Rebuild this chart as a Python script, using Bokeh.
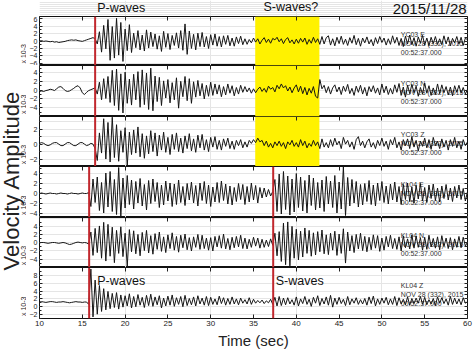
import numpy as np
from bokeh.plotting import figure
from bokeh.layouts import row, column
from bokeh.models import Range1d, Label, BoxAnnotation, Span, LinearAxis, FixedTicker
from bokeh.embed import file_html
from bokeh.resources import INLINE

# ---------------- data (velocity, x 10^-3), sampled every 0.25 s from t = 10 s ----------------
T0 = 10.0
DT = 0.25

yc03_e = [
    0.0, 0.1, -0.1, 0.0,  -0.1, -0.2, -0.1, -0.3,  -0.2, -0.4, -0.3, -0.2,  -0.1, 0.1, 0.2, 0.3,
    0.2, 0.3, 0.1, 0.0,  -0.1, 0.1, 0.3, 0.5,  0.7, 0.9, 0.6, -0.8,  2.5, -3.0, 4.2, -2.1,
    5.8, -5.2, 3.9, -4.6,  6.1, -3.8, 5.0, -5.5,  3.2, -2.6, 4.4, -3.1,  2.1, -1.8, 2.8, -2.4,
    1.6, -2.7, 3.0, -1.9,  2.4, -1.5, 1.9, -2.2,  1.4, -2.8, 2.6, -1.7,  2.0, -2.3, 1.5, -1.2,
    2.2, -1.9, 2.8, -2.5,  4.6, -3.6, 2.7, -2.0,  1.8, -2.4, 2.1, -1.5,  2.3, -1.6, 1.2, -2.0,
    1.7, -1.1, 1.9, -1.4,  1.2, -1.6, 1.4, -0.9,  1.5, -1.3, 0.8, -1.4,  1.1, -0.7, 1.3, -1.0,
    0.6, -0.9, 0.4, -0.5,  0.8, -0.3, 0.6, -0.8,  0.2, 0.9, -0.4, 0.5,  -0.6, 0.7, 0.3, 1.0,
    -0.2, 0.6, -0.7, 0.4,  0.9, -0.5, 0.3, -0.8,  0.5, -0.6, 0.7, -0.3,  0.8, -0.9, 0.4, -0.6,
    1.0, -0.4, 0.6, -0.9,  1.2, -0.8, 0.9, 1.4,  -1.1, 0.6, -1.3, 1.0,  -0.7, 1.3, -0.9, 0.5,
    -1.2, 0.9, -0.6, 1.5,  -1.0, 0.7, -1.4, 0.8,  -0.5, 1.1, -0.8, 0.4,  -1.3, 0.9, -0.7, 1.2,
    -0.4, 0.8, -1.1, 0.6,  -0.9, 1.4, -0.6, 1.0,  -1.2, 0.7, -1.5, 1.3,  -0.8, 1.6, -1.0, 0.9,
    -1.4, 1.1, -0.6, 1.5,  -1.1, 0.8, -1.3, 1.0,  -0.7, 1.2, -0.9, 0.6,  -1.0, 1.4, -0.8, 1.1,
    -1.3, 0.7, -0.5, 1.2,  -0.9, 1.0, -1.2, 0.8,  0.3,
]

yc03_n = [
    -0.3, -0.2, -0.3, -0.1,  0.0, 0.2, 0.1, -0.1,  0.3, 0.7, 0.8, 0.4,  -0.1, -0.3, -0.2, 0.1,
    0.4, 0.8, 1.0, 0.5,  -0.6, -1.0, -0.5, -0.1,  0.1, 0.3, 0.5, -0.9,  1.8, -2.2, 2.6, -1.9,
    3.1, -2.8, 4.5, -3.5,  4.8, -4.6, 3.7, -5.2,  4.1, -3.0, 2.5, -3.4,  3.6, -2.2, 4.2, -3.9,
    4.6, -3.3, 3.9, -4.4,  5.0, -4.7, 3.2, -2.6,  2.9, -3.5, 2.1, -1.8,  2.4, -2.9, 1.7, -2.2,
    2.8, -4.1, 2.0, -1.5,  3.1, -2.4, 2.6, -3.0,  1.9, -1.6, 2.2, -1.3,  1.5, -2.0, 1.1, -1.4,
    1.8, -1.2, 1.4, -0.9,  1.2, -1.5, 0.8, -1.1,  1.4, -0.7, 1.0, -1.3,  0.6, -0.9, 1.1, -0.5,
    0.8, -0.4, 0.5, -0.7,  0.3, -0.6, 0.2, 0.7,  -0.3, 0.4, -0.5, 0.9,  0.2, 0.6, -0.4, 1.1,
    0.3, 1.4, 0.5, 1.0,  -0.2, 0.7, -0.6, 0.5,  1.2, -0.4, 0.9, -0.8,  0.6, -1.1, 0.4, -0.7,
    0.8, -1.4, -1.8, 2.4,  0.3, 1.1, -0.6, 0.8,  -0.9, 0.5, 1.2, -0.4,  0.7, -1.0, 0.9, -0.3,
    1.3, -0.8, 0.4, -1.2,  0.9, -0.5, 1.1, -0.9,  0.6, -1.3, 0.8, -0.4,  1.0, -0.7, 0.5, -1.1,
    1.4, -0.6, 0.9, -1.0,  0.4, -0.9, 1.2, -0.5,  1.5, -1.2, 0.7, -1.6,  1.1, -0.8, 1.3, -0.6,
    0.9, -1.4, 0.6, -0.9,  1.6, -0.7, 1.0, -1.2,  0.5, -1.0, 1.4, -0.8,  1.2, -0.6, 0.8, -1.1,
    0.7, -1.3, 1.0, -0.5,  1.1, -0.7, 0.6, -0.9,  0.2,
]

yc03_z = [
    0.1, 0.2, 0.1, -0.1,  -0.2, -0.1, 0.1, 0.2,  0.2, 0.0, -0.2, -0.2,  0.0, 0.2, 0.2, 0.0,
    -0.2, -0.2, 0.0, 0.2,  0.2, 0.0, -0.2, -0.1,  0.1, 0.0, -0.6, -2.2,  1.5, -1.2, 3.4, -2.0,
    2.9, -2.4, 3.6, -1.8,  2.6, -2.3, 1.8, -1.1,  2.2, -2.9, 1.6, -1.4,  1.9, -1.2, 2.3, -1.7,
    1.4, -1.9, 1.1, -1.3,  1.8, -1.0, 1.5, -1.6,  1.2, -0.8, 1.6, -1.1,  0.9, -1.4, 1.3, -0.7,
    1.5, -1.0, 0.8, -1.2,  1.1, -0.6, 1.4, -0.9,  0.7, -1.1, 1.2, -0.5,  1.3, -0.8, 0.6, -1.0,
    0.9, -0.4, 1.0, -0.7,  0.5, -0.8, 0.7, -0.3,  0.8, -0.6, 0.4, -0.7,  0.5, -0.2, 0.6, -0.5,
    0.3, -0.4, 0.5, 0.1,  0.6, 0.2, 0.8, 0.3,  0.5, -0.2, 0.4, -0.4,  0.1, -0.5, 0.3, -0.2,
    0.4, -0.3, 0.2, -0.6,  0.3, -0.1, 0.5, -0.3,  0.2, -0.4, 0.6, -0.2,  0.4, -0.5, 0.1, -0.3,
    0.5, -0.2, 0.3, -0.6,  0.7, -0.4, 0.2, -0.5,  0.6, -0.3, 0.8, -0.1,  0.4, -0.6, 0.9, 0.0,
    0.5, -0.4, 0.3, -0.7,  0.6, 1.0, -0.2, 0.4,  -0.5, 0.3, 0.7, -0.4,  0.2, -0.6, 0.5, -0.2,
    0.8, -0.3, 0.4, -0.7,  0.6, -0.1, 0.9, -0.5,  0.3, -0.8, 0.6, -0.2,  0.7, -0.6, 1.0, -0.4,
    0.5, -0.9, 0.4, -0.3,  0.8, -0.5, 0.6, -0.7,  0.9, -0.2, 0.4, -0.6,  0.7, -0.4, 0.5, -0.8,
    0.6, -0.3, 0.9, -0.5,  0.4, -0.7, 0.6, -0.2,  0.3,
]

kl04_e = [
    0.0, 0.1, 0.0, -0.1,  0.0, 0.1, 0.0, 0.0,  -0.1, 0.0, 0.1, 0.0,  0.0, -0.1, 0.0, 0.1,
    0.0, 0.0, -0.1, 0.0,  0.1, 0.0, 0.0, 0.2,  -2.6, 2.9, -1.8, 3.3,  -3.4, 2.2, -3.9, 4.1,
    -2.7, 4.4, -3.6, 2.8,  -4.2, 5.2, -4.5, 3.1,  -2.9, 3.6, -2.2, 2.7,  -3.1, 2.4, -1.9, 3.0,
    -2.5, 1.8, -3.3, 2.6,  -2.0, 2.9, -1.6, 2.2,  -2.8, 1.7, -2.3, 2.5,  -1.5, 2.1, -2.6, 1.9,
    -2.2, 2.7, -1.8, 1.4,  -2.4, 2.0, -1.3, 2.3,  -1.9, 1.6, -2.5, 2.1,  -1.4, 2.4, -2.0, 1.7,
    -2.6, 1.3, -1.7, 2.2,  -1.8, 2.5, -1.4, 1.9,  -2.1, 1.5, -2.3, 1.2,  -1.6, 2.0, -1.2, 1.8,
    -2.2, 1.4, -1.7, 2.1,  -1.3, 1.6, -1.9, 1.2,  -0.9, 1.1, -0.7, 0.8,  -0.5, 0.4, 2.8, -3.6,
    3.9, -4.1, 4.4, -3.2,  3.5, -4.3, 2.9, -3.7,  4.0, -2.8, 3.3, -3.5,  2.6, -3.9, 3.7, -2.4,
    3.1, -3.3, 2.2, -2.9,  2.7, -3.6, 3.4, -2.1,  2.5, -2.8, 3.6, -3.9,  2.3, -3.1, 5.3, -4.4,
    3.2, -2.5, 2.8, -1.9,  2.4, -2.7, 1.8, -2.3,  2.0, -1.6, 2.6, -2.2,  1.7, -2.5, 2.1, -1.4,
    2.4, -1.8, 1.5, -2.1,  1.9, -1.3, 2.3, -1.7,  1.4, -2.2, 1.8, -1.2,  2.1, -1.6, 1.3, -1.9,
    1.6, -1.1, 2.0, -1.5,  1.2, -1.8, 1.7, -1.0,  1.9, -1.4, 1.1, -1.7,  1.5, -1.0, 1.8, -1.3,
    1.1, -1.6, 1.4, -0.9,  1.7, -1.2, 1.0, -1.5,  0.4,
]

kl04_n = [
    0.0, 0.1, 0.1, 0.0,  -0.1, 0.0, 0.1, 0.1,  0.0, -0.1, 0.0, 0.1,  0.0, -0.2, -0.4, -0.3,
    -0.1, 0.1, 0.2, 0.1,  0.0, 0.1, 0.0, -0.3,  2.7, -3.1, 3.6, -2.4,  4.2, -3.8, 5.1, -4.5,
    4.6, -3.3, 3.9, -4.9,  3.1, -2.6, 4.0, -3.4,  2.4, -5.8, 3.3, -2.2,  3.0, -2.7, 2.1, -3.2,
    2.6, -1.9, 3.1, -2.5,  1.8, -2.8, 2.3, -1.6,  2.7, -2.1, 1.5, -2.4,  2.0, -1.4, 2.5, -1.8,
    1.6, -2.3, 1.9, -1.2,  2.2, -1.7, 1.3, -2.0,  1.5, -1.1, 2.1, -1.6,  1.9, -1.4, 1.2, -1.8,
    1.3, -2.0, 1.6, -1.0,  1.8, -1.3, 2.2, -1.5,  1.1, -1.7, 1.4, -1.2,  1.6, -1.0, 1.9, -1.4,
    1.2, -1.5, 0.9, -1.1,  1.4, -0.8, 1.2, -1.3,  0.9, -1.1, 0.7, -0.9,  1.0, -0.6, 2.4, -3.2,
    2.8, -4.6, 4.9, -5.4,  5.2, -5.7, 4.1, -3.8,  3.4, -4.2, 2.9, -3.5,  3.7, -2.6, 3.1, -3.3,
    2.5, -3.0, 2.8, -2.2,  3.2, -2.7, 2.0, -2.9,  2.4, -1.8, 2.9, -3.1,  2.2, -2.6, 3.5, -5.0,
    2.7, -2.0, 1.8, -2.4,  2.1, -1.5, 2.4, -1.9,  1.6, -2.2, 1.4, -1.7,  2.0, -1.3, 1.8, -2.1,
    1.2, -1.8, 1.6, -1.0,  1.9, -1.4, 1.1, -1.6,  1.5, -2.0, 1.7, -1.2,  1.0, -1.5, 2.0, -1.3,
    1.7, -1.1, 1.3, -1.8,  1.4, -1.6, 1.9, -1.0,  1.1, -1.3, 1.5, -1.7,  1.8, -0.9, 1.2, -1.4,
    1.3, -1.7, 1.0, -1.1,  1.6, -1.2, 1.4, -0.8,  0.2,
]

kl04_z = [
    1.2, 1.3, 1.2, 1.1,  1.2, 1.3, 1.3, 1.2,  1.1, 1.2, 1.2, 1.3,  1.2, 1.1, 1.0, 1.1,
    1.2, 1.3, 1.2, 1.2,  1.1, 1.2, 1.2, 0.6,  9.6, -2.6, 6.8, -1.9,  5.4, -1.2, 4.6, -0.8,
    3.9, -0.5, 3.4, -0.2,  3.6, -0.6, 3.0, -0.1,  2.8, 0.2, 3.3, -0.3,  2.6, 0.0, 3.1, 0.4,
    2.4, -0.2, 2.9, 0.3,  3.2, 0.1, 2.5, 0.5,  2.8, -0.3, 2.2, 0.2,  2.7, 0.4, 3.0, 0.1,
    2.3, 0.6, 2.6, 0.0,  2.9, 0.3, 2.1, 0.5,  2.5, 0.2, 2.8, 0.7,  2.2, 0.4, 2.6, 0.3,
    2.4, 0.6, 2.0, 0.5,  2.7, 0.8, 2.3, 0.4,  2.1, 0.6, 2.5, 0.7,  2.0, 0.5, 2.2, 0.9,
    1.8, 0.7, 2.3, 0.6,  1.9, 0.9, 1.6, 1.0,  1.7, 0.8, 1.5, 1.0,  1.9, 0.6, 2.4, 0.2,
    2.6, 0.3, 2.2, 0.5,  2.3, 0.7, 1.8, 0.4,  2.5, 0.2, 2.0, 0.8,  2.6, 0.6, 1.9, 0.1,
    2.4, 0.9, 2.8, 0.3,  2.1, 0.7, 2.5, 0.4,  2.9, -0.1, 2.2, 0.6,  2.4, 0.8, 1.9, 0.3,
    2.6, 0.5, 2.0, 0.9,  2.3, 0.6, 1.8, 0.7,  2.1, 0.4, 2.5, 0.8,  2.7, 0.2, 2.0, 0.6,
    2.2, 0.9, 2.4, 0.5,  2.0, 0.6, 2.6, 0.3,  2.3, 0.7, 1.9, 0.5,  2.5, 0.4, 2.1, 0.8,
    2.2, 0.9, 2.6, 0.6,  2.4, 0.5, 1.8, 0.7,  2.1, 0.3, 2.5, 0.9,  2.3, 0.8, 2.0, 0.4,
    2.6, 0.6, 2.2, 0.7,  2.0, 0.5, 2.3, 0.9,  1.3,
]

stations = ["YC03", "YC03", "YC03", "KL04", "KL04", "KL04"]
components = ["E", "N", "Z", "E", "N", "Z"]
traces = [yc03_e, yc03_n, yc03_z, kl04_e, kl04_n, kl04_z]
y_lows = [-6.6, -6.0, -3.0, -4.8, -6.1, -3.0]
y_highs = [6.6, 5.6, 3.7, 5.4, 6.3, 10.0]
y_ticks = [[-6, -4, -2, 0, 2, 4, 6], [-4, -2, 0, 2, 4], [-2, 0, 2],
           [-4, -2, 0, 2, 4], [-4, -2, 0, 2, 4], [-2, 0, 2, 4, 6, 8]]
p_arrival = [16.5, 16.5, 16.5, 15.8, 15.8, 15.8]
s_arrival_kl04 = 37.3
s_window = (35.2, 42.7)
x_ticks = [10, 15, 20, 25, 30, 35, 40, 45, 50, 55, 60]
date_text = "2015/11/28"
header_date = "NOV 28 (332), 2015"
header_time = "00:52:37.000"
unit_text = "x 10-3"

# ---------------- layout ----------------
TOTAL_H = 351
SIDE_W = 26
PANEL_W = 474 - SIDE_W
LEFT_B = 11
RIGHT_B = 7
HEAD_H = 16
BOTTOM_B = 33
frame_h = [49, 51, 50, 51, 50, 51]
FONT = "Liberation Sans"
RED = "#c1272d"
TRACE = "#151515"
INK = "#222222"


def y_at(lo, hi, h, off):
    """data value located `off` pixels below the top edge of a frame of height h"""
    return hi - off * (hi - lo) / h


def bare(fig):
    fig.outline_line_color = None
    fig.background_fill_color = "white"
    fig.border_fill_color = "white"
    return fig


# header strip with the annotations above the first trace (pixel coordinates, y up)
head = bare(figure(width=PANEL_W, height=HEAD_H, x_range=Range1d(10, 60), y_range=Range1d(0, HEAD_H),
                   x_axis_location=None, y_axis_location=None,
                   output_backend="svg", toolbar_location=None,
                   min_border_left=LEFT_B, min_border_right=RIGHT_B,
                   min_border_top=0, min_border_bottom=0))
head.add_layout(Label(x=16.74, y=HEAD_H - 7.2, text="P-waves", text_font=FONT, text_font_size="12.5px",
                      text_color="#111111", text_baseline="middle"))
head.add_layout(Label(x=36.16, y=HEAD_H - 6.8, text="S-waves?", text_font=FONT, text_font_size="12.5px",
                      text_color="#111111", text_baseline="middle"))
head.add_layout(Label(x=59.9, y=HEAD_H - 7.6, text=date_text, text_font=FONT, text_font_size="15px",
                      text_color="#111111", text_baseline="middle", text_align="right"))

panels = [head]
for i in range(6):
    lo, hi, h = y_lows[i], y_highs[i], frame_h[i]
    bottom = BOTTOM_B if i == 5 else 0
    p = figure(width=PANEL_W, height=h + bottom,
               x_range=Range1d(10, 60), y_range=Range1d(lo, hi),
               x_axis_location=None, y_axis_location=None,
               output_backend="svg", toolbar_location=None,
               min_border_left=LEFT_B, min_border_right=RIGHT_B,
               min_border_top=0, min_border_bottom=bottom)
    p.outline_line_color = "#111111"
    p.outline_line_width = 1
    p.background_fill_color = "white"
    p.border_fill_color = "white"

    minors = [v for v in range(int(np.floor(lo)), int(np.ceil(hi)) + 1) if v % 2 != 0]
    left = LinearAxis(ticker=FixedTicker(ticks=y_ticks[i], minor_ticks=minors))
    left.major_tick_in = 3
    left.major_tick_out = 0
    left.minor_tick_in = 2
    left.minor_tick_out = 0
    left.axis_line_color = None
    left.major_tick_line_color = INK
    left.minor_tick_line_color = INK
    left.major_label_text_font = FONT
    left.major_label_text_font_size = "7px"
    left.major_label_text_color = INK
    left.major_label_standoff = 2
    p.add_layout(left, "left")

    right = LinearAxis(ticker=FixedTicker(ticks=[], minor_ticks=sorted(y_ticks[i] + minors)))
    right.minor_tick_in = 3
    right.minor_tick_out = 0
    right.axis_line_color = None
    right.minor_tick_line_color = INK
    right.major_label_standoff = 0
    p.add_layout(right, "right")

    above = LinearAxis(ticker=FixedTicker(ticks=[], minor_ticks=x_ticks))
    above.minor_tick_in = 4
    above.minor_tick_out = 0
    above.axis_line_color = None
    above.minor_tick_line_color = INK
    above.major_label_standoff = 0
    p.add_layout(above, "above")

    if i == 5:
        below = LinearAxis(ticker=FixedTicker(ticks=x_ticks))
        below.major_tick_in = 4
        below.major_tick_out = 0
        below.minor_tick_line_color = None
        below.axis_line_color = None
        below.major_tick_line_color = INK
        below.major_label_text_font = FONT
        below.major_label_text_font_size = "8px"
        below.major_label_text_color = INK
        below.major_label_standoff = 2
        below.axis_label = "Time (sec)"
        below.axis_label_text_font = FONT
        below.axis_label_text_font_size = "15px"
        below.axis_label_text_font_style = "normal"
        below.axis_label_text_color = INK
        below.axis_label_standoff = 3
        p.add_layout(below, "below")

    if i < 3:
        p.add_layout(BoxAnnotation(left=s_window[0], right=s_window[1],
                                   fill_color="#fff200", fill_alpha=1.0,
                                   line_color=None, level="underlay"))

    # station header text (under the trace)
    for k, txt in enumerate([f"{stations[i]}   {components[i]}", header_date, header_time]):
        p.add_layout(Label(x=52.2, y=y_at(lo, hi, h, 18 + 9 * k), text=txt,
                           text_font=FONT, text_font_size="7px", text_color="#333333",
                           text_baseline="middle", text_align="left", level="underlay"))

    t = T0 + DT * np.arange(len(traces[i]))
    p.line(t, traces[i], line_color=TRACE, line_width=1.0)

    p.add_layout(Span(location=p_arrival[i], dimension="height",
                      line_color=RED, line_width=2))
    if i >= 3:
        p.add_layout(Span(location=s_arrival_kl04, dimension="height",
                          line_color=RED, line_width=2))

    if i == 5:
        p.add_layout(Label(x=16.74, y=y_at(lo, hi, h, 13.5), text="P-waves",
                           text_font=FONT, text_font_size="12.5px", text_color="#111111",
                           text_baseline="middle"))
        p.add_layout(Label(x=37.6, y=y_at(lo, hi, h, 13.5), text="S-waves",
                           text_font=FONT, text_font_size="12.5px", text_color="#111111",
                           text_baseline="middle"))
    panels.append(p)

# left strip: overall axis title and the per-trace unit labels (pixel coordinates, y up)
side = bare(figure(width=SIDE_W, height=TOTAL_H, x_range=Range1d(0, SIDE_W), y_range=Range1d(0, TOTAL_H),
                   x_axis_location=None, y_axis_location=None, min_border=0,
                   output_backend="svg", toolbar_location=None))
side.grid.visible = False
side.add_layout(Label(x=10.5, y=TOTAL_H - 180, text="Velocity Amplitude", angle=np.pi / 2,
                      text_font=FONT, text_font_size="22px", text_color=INK,
                      text_align="center", text_baseline="middle"))
top = HEAD_H
for h in frame_h:
    side.add_layout(Label(x=22.5, y=TOTAL_H - (top + 0.76 * h), text=unit_text, angle=np.pi / 2,
                          text_font=FONT, text_font_size="7px", text_color=INK,
                          text_align="center", text_baseline="middle"))
    top += h

layout = row(side, column(*panels))
open("out.html", "w").write(file_html(layout, INLINE))
